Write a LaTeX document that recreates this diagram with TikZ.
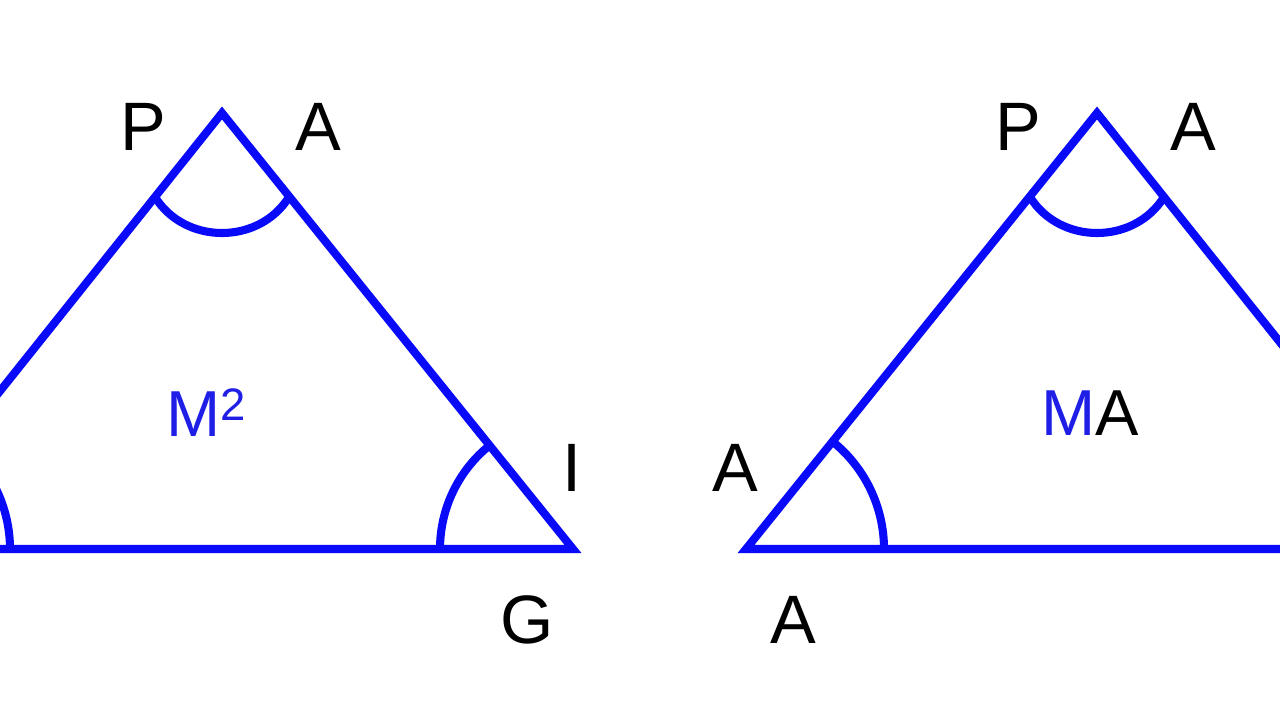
\documentclass[tikz,border=0pt]{standalone}
\usepackage{fontspec}
\setmainfont{Liberation Sans}
\begin{document}
\begin{tikzpicture}[x=0.02cm,y=-0.02cm,
  tri/.style={draw={rgb,255:red,10;green,10;blue,250},line width=4.6pt,line join=miter},
  lbl/.style={font=\fontsize{39}{42}\selectfont,inner sep=0pt},
  mid/.style={font=\fontsize{37}{40}\selectfont,inner sep=0pt,text={rgb,255:red,30;green,30;blue,230}}]
\useasboundingbox (0,0) rectangle (1280,720);
\clip (0,0) rectangle (1280,720);
% left triangle
\coordinate (L1) at (222,113);
\coordinate (L2) at (573,549);
\coordinate (L3) at (-126,549);
\draw[tri] (L3) -- (L1) -- (L2) -- cycle;
\draw[tri] (155,197) .. controls (185,245) and (259,245) .. (289,197);
\draw[tri] (440,549) arc[start angle=180,end angle=231.2,radius=133];
\draw[tri] (10,549) arc[start angle=0,end angle=-51.2,radius=136];
% right triangle
\coordinate (R1) at (1097,113);
\coordinate (R2) at (746,549);
\coordinate (R3) at (1445,549);
\draw[tri] (R2) -- (R1) -- (R3) -- cycle;
\draw[tri] (1030,197) .. controls (1060,245) and (1134,245) .. (1164,197);
\draw[tri] (884,549) arc[start angle=0,end angle=-51.2,radius=138];
% labels
\node[lbl] (p1) at (143,127) {P};
\node[lbl] (a1) at (318,127) {A};
\node[lbl] (i1) at (572,468) {I};
\node[lbl] (g1) at (527,620) {G};
\node[mid] (m1) at (207,413) {M\textsuperscript{2}};
\node[lbl] (p2) at (1018,127) {P};
\node[lbl] (a2) at (1193,127) {A};
\node[lbl] (a3) at (735,468) {A};
\node[lbl] (a4) at (793,620) {A};
\node[mid] (m2) at (1090,413) {M\textcolor{black}{A}};
\end{tikzpicture}
\end{document}
